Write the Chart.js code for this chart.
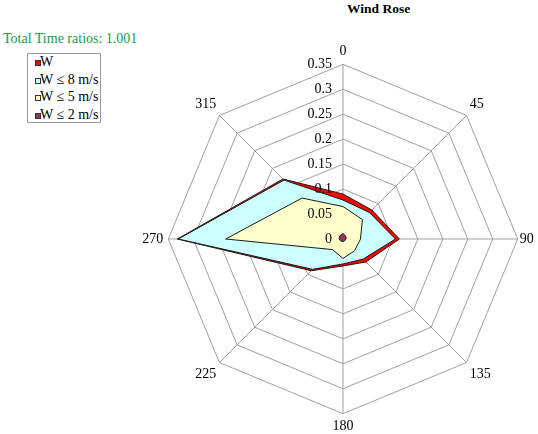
<!DOCTYPE html>
<html>
<head>
<meta charset="utf-8">
<title>Wind Rose</title>
<script src="https://cdn.jsdelivr.net/npm/chart.js@4.4.1/dist/chart.umd.min.js"></script>
<style>
  html, body { margin: 0; padding: 0; width: 538px; height: 434px; overflow: hidden; background: #fff; }
  body { font-family: "Liberation Serif", "Times New Roman", serif; font-size: 14px; color: #000; }
  #title { position: absolute; left: 347px; top: 1px; font-weight: bold; font-size: 13.5px; line-height: 16px; }
  #ratio { position: absolute; left: 3px; top: 31px; color: #17994f; line-height: 16px; }
  #legend { position: absolute; left: 27px; top: 53px; width: 72px; height: 68px; border: 1px solid #9a9a9a; }
  .item { position: absolute; left: 12px; height: 18px; line-height: 18px; white-space: nowrap; }
  .mark { position: absolute; left: -5px; top: 7px; width: 4px; height: 4px; border: 1px solid #333; }
  #wrap { position: absolute; left: 135px; top: 44px; width: 406px; height: 392px; }
</style>
</head>
<body>
<div id="title">Wind Rose</div>
<div id="ratio">Total Time ratios: 1.001</div>
<div id="legend"></div>
<div id="wrap"><canvas id="rose"></canvas></div>
<script>
  // Direcciones y series
  const directions = ["0", "45", "90", "135", "180", "225", "270", "315"];
  const seriesNames = ["W", "W \u2264 8 m/s", "W \u2264 5 m/s", "W \u2264 2 m/s"];
  const wAll = [0.09, 0.082, 0.113, 0.065, 0.054, 0.09, 0.332, 0.17];
  const wLe8 = [0.078, 0.075, 0.105, 0.057, 0.05, 0.086, 0.33, 0.167];
  const wLe5 = [0.065, 0.055, 0.035, 0.033, 0.039, 0.03, 0.235, 0.116];
  const wLe2 = [0.011, 0.008, 0.006, 0.005, 0.005, 0.006, 0.008, 0.009];
  const tickLabels = ["0", "0.05", "0.1", "0.15", "0.2", "0.25", "0.3", "0.35"];
  const fills = ["#ff0000", "#ccffff", "#ffffcc", "#993366"];

  const serif = "'Liberation Serif', 'Times New Roman', serif";

  // Leyenda en HTML
  const legend = document.getElementById("legend");
  seriesNames.forEach((name, i) => {
    const div = document.createElement("div");
    div.className = "item";
    div.style.top = (i * 17.7 - 1) + "px";
    div.innerHTML = `<span class="mark" style="background:${fills[i]}"></span>${name}`;
    legend.appendChild(div);
  });

  // Etiquetas del eje radial a la izquierda del eje vertical
  const tickText = {
    id: "tickText",
    afterDatasetsDraw(chart) {
      const s = chart.scales.r;
      const ctx = chart.ctx;
      ctx.save();
      ctx.font = "14px " + serif;
      ctx.fillStyle = "#000";
      ctx.textAlign = "right";
      ctx.textBaseline = "middle";
      tickLabels.forEach((t) => {
        const d = s.getDistanceFromCenterForValue(parseFloat(t));
        ctx.fillText(t, s.xCenter - 11, s.yCenter - d);
      });
      ctx.restore();
    },
  };

  const series = [wAll, wLe8, wLe5, wLe2];
  new Chart(document.getElementById("rose"), {
    type: "radar",
    data: {
      labels: directions,
      datasets: series.map((data, i) => ({
        label: seriesNames[i],
        data: data,
        backgroundColor: fills[i],
        borderColor: "#1a1a1a",
        borderWidth: 1,
        fill: true,
        pointRadius: 0,
        order: series.length - i,
      })),
    },
    options: {
      responsive: true,
      maintainAspectRatio: false,
      animation: false,
      plugins: {
        legend: { display: false },
        tooltip: { enabled: false },
      },
      elements: { line: { tension: 0 } },
      scales: {
        r: {
          min: 0,
          max: 0.35,
          ticks: { display: false, stepSize: 0.05 },
          grid: { color: "#a0a0a0", lineWidth: 1 },
          angleLines: { color: "#a0a0a0", lineWidth: 1 },
          pointLabels: {
            color: "#000",
            padding: (ctx) => (ctx.index === 2 ? 2 : ctx.index === 6 ? 5 : 4.5),
            font: { family: serif, size: 14 },
          },
        },
      },
    },
    plugins: [tickText],
  });
</script>
</body>
</html>
